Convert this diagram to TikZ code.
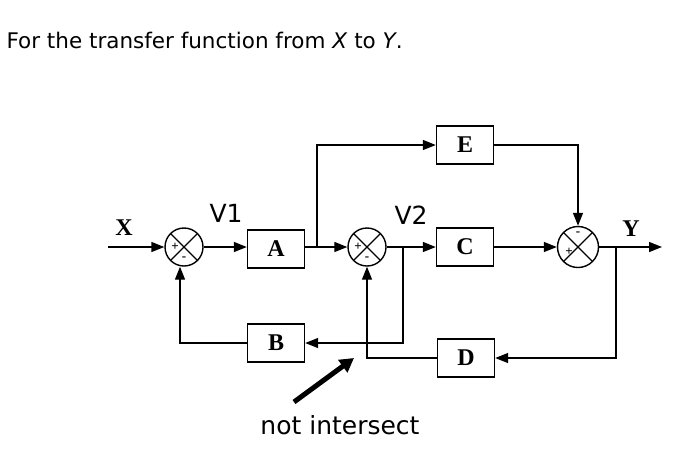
\documentclass[tikz,border=0pt]{standalone}
\usepackage{fontspec}
\setmainfont{Liberation Serif}
\setsansfont{DejaVu Sans}
\usetikzlibrary{arrows.meta}
\begin{document}
\begin{tikzpicture}[x=1pt,y=-1pt,
  blk/.style={draw,line width=1.4pt,minimum width=57pt,minimum height=38pt,inner sep=0pt,font=\fontsize{24}{24}\selectfont\bfseries},
  sum/.style={draw,circle,line width=1.4pt,minimum size=38pt,inner sep=0pt,
    path picture={\draw[line width=1.1pt] (path picture bounding box.north west)--(path picture bounding box.south east)
      (path picture bounding box.north east)--(path picture bounding box.south west);}},
  sig/.style={font=\fontsize{13}{13}\selectfont\bfseries,inner sep=0pt},
  ln/.style={line width=1.4pt},
  ar/.style={ln,-{Triangle[length=13pt,width=10pt]}},
  lab/.style={font=\fontsize{24}{24}\selectfont\bfseries},
  vlab/.style={font=\sffamily\fontsize{25}{25}\selectfont}]
\useasboundingbox (0,0) rectangle (700,472);
\node[anchor=west,font=\sffamily\fontsize{21.5}{24}\selectfont] (title) at (3,40) {For the transfer function from \textit{X} to \textit{Y}.};
\node[sum] (s1) at (184,247) {};
\node[sum] (s2) at (367,247) {};
\node[sum,minimum size=41pt] (s3) at (578,247) {};
\node[blk] (A) at (276,249) {A};
\node[blk] (B) at (276,343) {B};
\node[blk] (C) at (465,247) {C};
\node[blk] (D) at (466,358) {D};
\node[blk] (E) at (465,145) {E};
\node[sig] (p1) at (175,247) {+};
\node[sig] (m1) at (184,259) {-};
\node[sig] (p2) at (358,247) {+};
\node[sig] (m2) at (367,259) {-};
\node[sig] (p3) at (569,252) {+};
\node[sig] (m3) at (578,234) {-};
\coordinate (xin) at (108,247);
\coordinate (yout) at (662,247);
\coordinate (ea) at (317,247);
\coordinate (eb) at (317,145);
\coordinate (ec) at (578,145);
\coordinate (ya) at (616,247);
\coordinate (yb) at (616,358);
\coordinate (da) at (367,358);
\coordinate (va) at (403,247);
\coordinate (vb) at (403,343);
\coordinate (ba) at (180,343);
\node[lab] (X) at (124,228) {X};
\node[lab] (Y) at (631,229) {Y};
\node[vlab] (V1) at (226,213) {V1};
\node[vlab] (V2) at (411,215) {V2};
\draw[ar] (xin) -- (s1);
\draw[ar] (s1) -- (s1 -| A.west);
\draw[ar] (A.east |- s2) -- (s2);
\draw[ar] (s2) -- (C);
\draw[ar] (C) -- (s3);
\draw[ar] (s3) -- (yout);
\draw[ar] (ea) -- (eb) -- (E);
\draw[ar] (E) -- (ec) -- (s3);
\draw[ar] (ya) -- (yb) -- (D);
\draw[ar] (D) -- (da) -- (s2);
\draw[ar] (va) -- (vb) -- (B);
\draw[ar] (B) -- (ba) -- (s1.south -| ba);
\coordinate (na) at (294,402);
\coordinate (nb) at (354,358);
\draw[line width=5pt,-{Triangle[length=14pt,width=15pt]}] (na) -- (nb);
\node[font=\sffamily\fontsize{25}{25}\selectfont] (ni) at (340,425) {not intersect};
\end{tikzpicture}
\end{document}
